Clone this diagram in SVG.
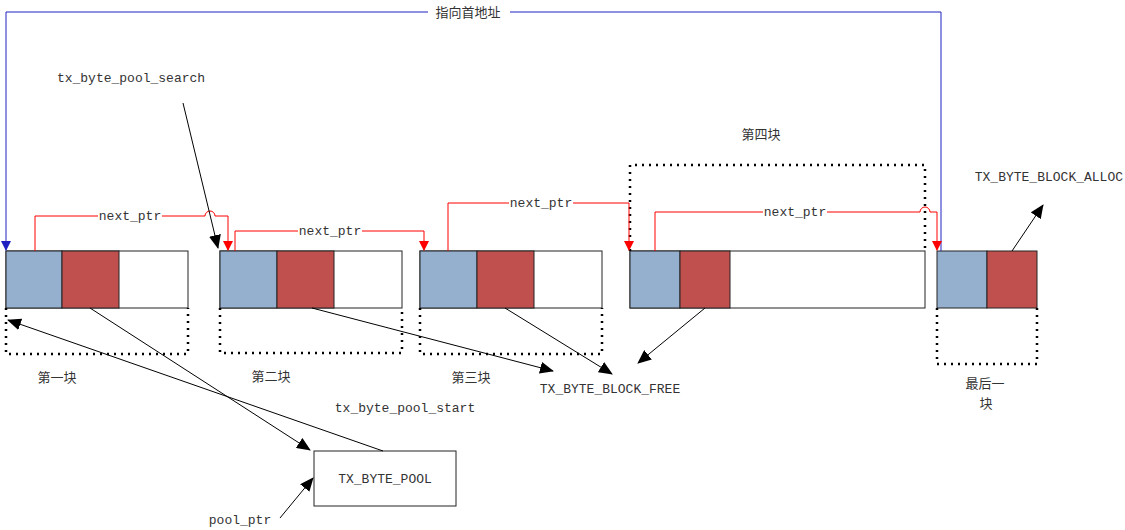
<svg xmlns="http://www.w3.org/2000/svg" width="1125" height="530" viewBox="0 0 1125 530">
<style>
text{font-family:"Liberation Mono","Noto Sans CJK SC",monospace;font-size:13px;fill:#333;text-anchor:middle}
.b{fill:#95b0cf;stroke:#222;stroke-width:1}
.r{fill:#c0504d;stroke:#222;stroke-width:1}
.w{fill:#fff;stroke:#222;stroke-width:1}
.d{fill:none;stroke:#000;stroke-width:2.5;stroke-dasharray:2,5}
.red{fill:none;stroke:#f00;stroke-width:1}
.k{fill:none;stroke:#000;stroke-width:1}
</style>
<defs>
<marker id="ar" markerWidth="10" markerHeight="10" refX="9" refY="5" orient="auto" markerUnits="userSpaceOnUse"><path d="M0,0L10,5L0,10z" fill="#f00"/></marker>
<marker id="ak" markerWidth="14" markerHeight="12" refX="13" refY="6" orient="auto" markerUnits="userSpaceOnUse"><path d="M0,0L14,6L0,12z" fill="#000"/></marker>
<marker id="ab" markerWidth="10" markerHeight="10" refX="9" refY="5" orient="auto" markerUnits="userSpaceOnUse"><path d="M0,0L10,5L0,10z" fill="#2020c0"/></marker>
</defs>
<rect width="1125" height="530" fill="#fff"/>
<g id="block1"><rect class="w" x="6" y="251" width="182" height="57"/><rect class="b" x="6" y="251" width="56" height="57"/><rect class="r" x="62" y="251" width="57" height="57"/><path class="d" d="M6,308V354H188V308"/><text x="57" y="382">第一块</text></g>
<g id="block2"><rect class="w" x="220" y="251" width="182" height="57"/><rect class="b" x="220" y="251" width="57" height="57"/><rect class="r" x="277" y="251" width="57" height="57"/><path class="d" d="M220,308V353H402V308"/><text x="271" y="381">第二块</text></g>
<g id="block3"><rect class="w" x="420" y="251" width="182" height="57"/><rect class="b" x="420" y="251" width="57" height="57"/><rect class="r" x="477" y="251" width="57" height="57"/><path class="d" d="M420,308V354H602V308"/><text x="471" y="382">第三块</text></g>
<g id="block4"><rect class="w" x="630" y="251" width="295" height="57"/><rect class="b" x="630" y="251" width="50" height="57"/><rect class="r" x="680" y="251" width="50" height="57"/><path class="d" d="M630,251V165H925V251"/><text x="761" y="139">第四块</text></g>
<g id="last"><rect class="b" x="937" y="251" width="50" height="57"/><rect class="r" x="987" y="251" width="50" height="57"/><path class="d" d="M937,308V364H1037V308"/><text x="985" y="388">最后一</text><text x="986" y="408">块</text></g>
<g id="pool"><rect class="w" x="314" y="451" width="142" height="55"/><text x="385" y="483">TX_BYTE_POOL</text></g>
<g id="connectors">
<path d="M941,251V12H6V250" fill="none" stroke="#2020c0" stroke-width="1" marker-end="url(#ab)"/>
<rect x="428" y="4" width="82" height="16" fill="#fff"/><text x="468" y="17">指向首地址</text>
<path class="red" d="M35,251V216H205a5,5 0 0 1 10,0H228V250" marker-end="url(#ar)"/>
<rect x="98" y="209" width="64" height="14" fill="#fff"/><text x="130" y="220">next_ptr</text>
<path class="red" d="M235,251V231H424V250" marker-end="url(#ar)"/>
<rect x="298" y="224" width="64" height="14" fill="#fff"/><text x="330" y="235">next_ptr</text>
<path class="red" d="M448,251V203H629V250" marker-end="url(#ar)"/>
<rect x="509" y="196" width="64" height="14" fill="#fff"/><text x="541" y="207">next_ptr</text>
<path class="red" d="M655,251V212H920a5,5 0 0 1 10,0H937V250" marker-end="url(#ar)"/>
<rect x="763" y="205" width="64" height="14" fill="#fff"/><text x="795" y="216">next_ptr</text>
<text x="131" y="82">tx_byte_pool_search</text>
<path class="k" d="M183,103L218,248" marker-end="url(#ak)"/>
<path class="k" d="M383,451L8,320" marker-end="url(#ak)"/>
<text x="405" y="412">tx_byte_pool_start</text>
<path class="k" d="M90,308L310,450" marker-end="url(#ak)"/>
<text x="240" y="524">pool_ptr</text>
<path class="k" d="M280,518L313,478" marker-end="url(#ak)"/>
<path class="k" d="M312,308L553,371" marker-end="url(#ak)"/>
<path class="k" d="M505,308L612,374" marker-end="url(#ak)"/>
<path class="k" d="M705,308L638,363" marker-end="url(#ak)"/>
<text x="610" y="393">TX_BYTE_BLOCK_FREE</text>
<path class="k" d="M1012,251L1043,205" marker-end="url(#ak)"/>
<text x="1123" y="181" style="text-anchor:end">TX_BYTE_BLOCK_ALLOC</text>
</g>
</svg>
